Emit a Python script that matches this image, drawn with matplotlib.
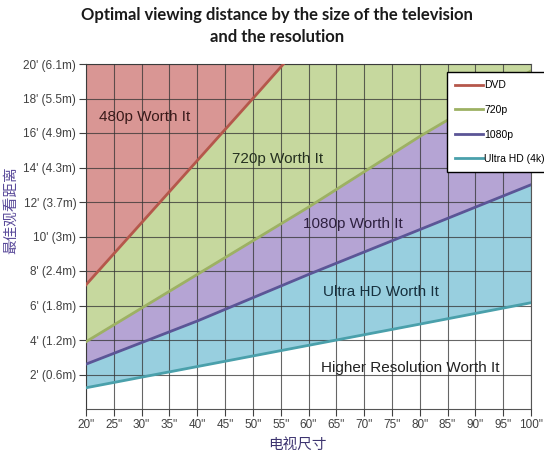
import matplotlib
matplotlib.use('Agg')
import matplotlib.pyplot as plt

plt.rcParams['font.family'] = ['Liberation Sans', 'DejaVu Sans']

# screen size (inches) vs optimal viewing distance (feet)
sizes = [20, 40, 60, 80, 100]
dvd_sizes = [20, 30, 40, 50, 55.5]
dvd = [7.2, 10.8, 14.4, 18.0, 20.0]
p720 = [3.9, 7.8, 11.7, 15.8, 19.6]
p1080 = [2.6, 5.1, 7.8, 10.4, 13.0]
uhd = [1.23, 2.46, 3.69, 4.92, 6.16]

xticks = list(range(20, 101, 5))
yticks = list(range(2, 21, 2))
ytick_labels = ["2' (0.6m)", "4' (1.2m)", "6' (1.8m)", "8' (2.4m)", "10' (3m)",
                "12' (3.7m)", "14' (4.3m)", "16' (4.9m)", "18' (5.5m)", "20' (6.1m)"]

fig = plt.figure(figsize=(5.44, 4.59), dpi=100)
ax = fig.add_axes([86/544, 1-409/459, 445/544, 345/459])
ax.set_xlim(20, 100)
ax.set_ylim(0, 20)

# shaded regions
ax.fill([20] + dvd_sizes, [20] + dvd, color='#d99694', zorder=1)
ax.fill(dvd_sizes + [100] + sizes[::-1], dvd + [20] + p720[::-1], color='#c6d89e', zorder=1)
ax.fill(sizes + sizes[::-1], p720 + p1080[::-1], color='#b5a4d4', zorder=1)
ax.fill(sizes + sizes[::-1], p1080 + uhd[::-1], color='#98cfdf', zorder=1)

ax.set_xticks(xticks)
ax.set_yticks(yticks)
ax.grid(True, color='#333333', linewidth=0.8, alpha=0.75, zorder=2)
ax.set_axisbelow(False)

ax.plot(dvd_sizes, dvd, color='#b5574b', lw=2, label='DVD', zorder=3)
ax.plot(sizes, p720, color='#9db163', lw=2, label='720p', zorder=3)
ax.plot(sizes, p1080, color='#5b5596', lw=2, label='1080p', zorder=3)
ax.plot(sizes, uhd, color='#4aa0ab', lw=2, label='Ultra HD (4k)', zorder=3)

ax.set_xticklabels([f'{v}"' for v in xticks])
ax.set_yticklabels(ytick_labels)
ax.tick_params(labelsize=8.5, colors='#404040', length=5, width=0.8, pad=2)
for s in ax.spines.values():
    s.set_color('#555555')
    s.set_linewidth(0.8)

ax.text(22.4, 16.9, '480p Worth It', fontsize=11, color='#3a1a1a', va='center', zorder=4)
ax.text(46.3, 14.5, '720p Worth It', fontsize=11, color='#253020', va='center', zorder=4)
ax.text(59.0, 10.7, '1080p Worth It', fontsize=11, color='#2e2040', va='center', zorder=4)
ax.text(62.6, 6.8, 'Ultra HD Worth It', fontsize=11, color='#16303e', va='center', zorder=4)
ax.text(62.3, 2.4, 'Higher Resolution Worth It', fontsize=11, color='#222222', va='center', zorder=4)

leg = fig.legend(loc='upper left', bbox_to_anchor=(447/544, 1-72/459), fontsize=7.5,
                 frameon=True, fancybox=False, edgecolor='black', framealpha=1,
                 handlelength=2.7, handletextpad=0.1, labelspacing=1.4,
                 borderaxespad=0, borderpad=0.8)
leg.get_frame().set_linewidth(1)
leg.set_zorder(5)

fig.text(277/544, 1-15/459, 'Optimal viewing distance by the size of the television',
         ha='center', va='center', fontsize=12, fontweight='bold', family=['Lato', 'DejaVu Sans'], color='#1a1a1a')
fig.text(277/544, 1-37/459, 'and the resolution',
         ha='center', va='center', fontsize=12, fontweight='bold', family=['Lato', 'DejaVu Sans'], color='#1a1a1a')

fig.text(11/544, 1-210/459, '最佳观看距离', rotation=90, ha='center', va='center', fontsize=10.5,
         color='#5a4a9a', family=['Noto Sans CJK SC', 'DejaVu Sans'])
fig.text(297/544, 1-445/459, '电视尺寸', ha='center', va='center', fontsize=10.5,
         color='#3d3470', family=['Noto Sans CJK SC', 'DejaVu Sans'])

fig.savefig('out.png', dpi=100)
